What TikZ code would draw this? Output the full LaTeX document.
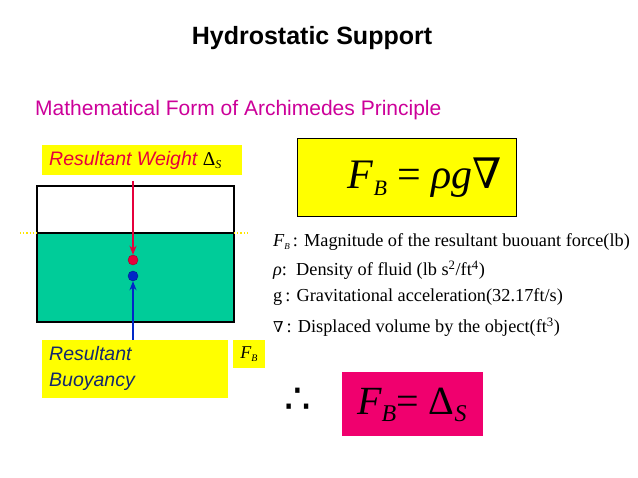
\documentclass[tikz,border=0pt]{standalone}
\usepackage{fontspec}
\usetikzlibrary{arrows.meta}
\setmainfont{Liberation Serif}
\setsansfont{Liberation Sans}
\newfontfamily\djf{DejaVu Serif}
\newfontfamily\djs{DejaVu Sans}
\definecolor{ylw}{RGB}{255,255,0}
\definecolor{grn}{RGB}{0,204,153}
\definecolor{mag}{RGB}{204,0,153}
\definecolor{pnk}{RGB}{240,0,110}
\definecolor{rd}{RGB}{230,0,60}
\definecolor{bl}{RGB}{0,40,200}
\definecolor{dblue}{RGB}{20,40,110}
\tikzset{ybox/.style={fill=ylw,inner sep=0pt},
 deftext/.style={anchor=west,font=\fontsize{18.3}{18}\selectfont,inner sep=0pt}}
\begin{document}
\begin{tikzpicture}[x=1pt,y=-1pt]
\useasboundingbox (0,0) rectangle (638,478);
\node (title) at (312,38) {\sffamily\bfseries\fontsize{25}{25}\selectfont Hydrostatic Support};
\node[text=mag,anchor=west,inner sep=0pt] (sub) at (35,110) {\sffamily\fontsize{21}{21}\selectfont Mathematical Form of Archimedes Principle};
% weight box
\fill[ybox] (42,145) rectangle (242,175);
\node[anchor=west,text=rd,inner sep=0pt] (wt) at (49,160) {\sffamily\itshape\fontsize{19.5}{19.5}\selectfont Resultant Weight \rmfamily\upshape\textcolor{black}{Δ\raisebox{-0.35ex}{\fontsize{12}{12}\selectfont\itshape S}}};
% object
\fill[white] (37,186) rectangle (234,233);
\fill[grn] (37,233) rectangle (234,322);
\draw[line width=1.6pt] (37,186) rectangle (234,322);
\draw[line width=1.6pt] (37,233) -- (234,233);
\draw[ylw!80!orange,dotted,line width=1.2pt] (20,233) -- (37,233) (234,233) -- (248,233);
% dots and arrows
\node[circle,fill=rd,draw=rd!70!black,inner sep=0pt,minimum size=10pt] (G) at (133,260) {};
\node[circle,fill=bl,draw=bl!70!black,inner sep=0pt,minimum size=10pt] (B) at (133,276) {};
\coordinate (wtop) at (133,181);
\coordinate (bbot) at (133,340);
\draw[rd,line width=1.5pt,-{Stealth[length=9pt,width=7pt]}] (wtop) -- (G.north);
\draw[bl,line width=1.5pt,-{Stealth[length=9pt,width=7pt]}] (bbot) -- (B.south);
% buoyancy box
\fill[ybox] (42,340) rectangle (228,398);
\node[anchor=north west,align=left,text=dblue,inner sep=0pt,font=\sffamily\itshape\fontsize{19.5}{26}\selectfont] (buoy) at (49,346) {Resultant\\Buoyancy};
\fill[ybox] (233,340) rectangle (265,368);
\node (fb) at (249,354) {\itshape\fontsize{18}{18}\selectfont F\raisebox{-0.4ex}{\fontsize{10}{10}\selectfont B}};
% formula box
\draw[fill=ylw,line width=0.6pt] (297,138) rectangle (516,216);
\node (form) at (425,178) {\fontsize{42}{42}\selectfont\itshape F\raisebox{-0.35ex}{\fontsize{22}{22}\selectfont\upshape\itshape B} \upshape = \itshape ρg\upshape{\djf ∇}};
% definitions
\node[deftext] (d1) at (273,242) {\itshape F\raisebox{-0.4ex}{\fontsize{9}{9}\selectfont B}\upshape\,: Magnitude of the resultant buouant force(lb)};
\node[deftext] (d2) at (273,270) {\itshape ρ\upshape:\ \ Density of fluid (lb s\textsuperscript{2}/ft\textsuperscript{4})};
\node[deftext] (d3) at (273,297) {g\,: Gravitational acceleration(32.17ft/s)};
\node[deftext] (d4) at (273,327) {{\djf\fontsize{15}{15}\selectfont ∇}\,: Displaced volume by the object(ft\textsuperscript{3})};
% conclusion
\node (there) at (298,401) {\djs\fontsize{42}{42}\selectfont ∴};
\fill[pnk] (342,372) rectangle (483,436);
\node (res) at (412,405) {\fontsize{40}{40}\selectfont\itshape F\raisebox{-0.35ex}{\fontsize{24}{24}\selectfont B}\upshape= Δ\raisebox{-0.35ex}{\fontsize{24}{24}\selectfont\itshape S}};
\end{tikzpicture}
\end{document}
